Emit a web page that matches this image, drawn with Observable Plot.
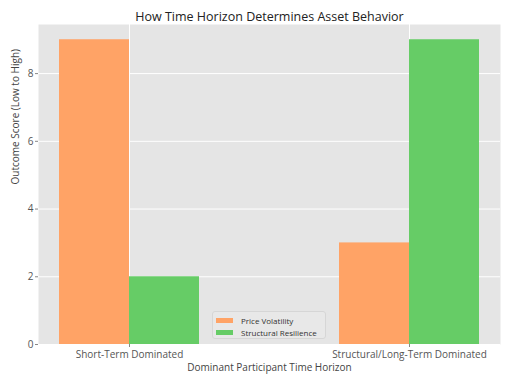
<!DOCTYPE html>
<html>
<head>
<meta charset="utf-8">
<script src="https://cdn.jsdelivr.net/npm/d3@7"></script>
<script src="https://cdn.jsdelivr.net/npm/@observablehq/plot@0.6"></script>
<style>
  body { margin: 0; background: white; }
  #wrap { position: relative; width: 512px; height: 384px; }
  #legend {
    position: absolute; left: 212px; top: 311px; width: 114px; height: 28px;
    background: #e8e8e8; border: 1px solid #d6d6d6; border-radius: 3px;
    font-family: "Open Sans", sans-serif; font-size: 8px; color: #333;
    box-sizing: border-box; padding: 2px 0 0 3px;
  }
  .item { display: flex; align-items: center; height: 12px; }
  .sw { width: 17px; height: 5px; margin-right: 8px; }
</style>
</head>
<body>
<div id="wrap"></div>
<script>
const categories = ["Short-Term Dominated", "Structural/Long-Term Dominated"];
const series = ["Price Volatility", "Structural Resilience"];
const priceVolatility = [9, 3];
const structuralResilience = [2, 9];
const colors = ["#ffa366", "#66cc66"];
const yTicks = [0, 2, 4, 6, 8];
const title = "How Time Horizon Determines Asset Behavior";
const xLabel = "Dominant Participant Time Horizon";
const yLabel = "Outcome Score (Low to High)";

const barWidth = 0.25;
const data = [];
[priceVolatility, structuralResilience].forEach((vals, s) => {
  vals.forEach((v, i) => {
    const center = i + (s === 0 ? -barWidth / 2 : barWidth / 2);
    data.push({ cat: i, series: series[s], value: v, x1: center - barWidth / 2, x2: center + barWidth / 2 });
  });
});

const font = "'Open Sans', sans-serif";
const chart = Plot.plot({
  width: 512, height: 384,
  marginTop: 24, marginLeft: 38, marginRight: 12, marginBottom: 40,
  style: { fontFamily: font, fontSize: "10px", background: "white", color: "#555" },
  x: { type: "linear", domain: [-0.325, 1.325] },
  y: { domain: [0, 9.45] },
  color: { domain: series, range: colors },
  marks: [
    Plot.frame({ fill: "#e5e5e5", stroke: null }),
    Plot.gridY(yTicks, { stroke: "white", strokeOpacity: 1, strokeWidth: 1 }),
    Plot.gridX([0, 1], { stroke: "white", strokeOpacity: 1, strokeWidth: 1 }),
    Plot.rectY(data, { x1: "x1", x2: "x2", y: "value", fill: "series" }),
    Plot.axisY(yTicks, { tickSize: 3, tickPadding: 2, label: null, stroke: "#888", fill: "#555" }),
    Plot.axisX([0, 1], { tickFormat: i => categories[i], tickSize: 3, tickPadding: 3, label: null, stroke: "#888", fill: "#555" }),
    Plot.text([title], { frameAnchor: "top", dy: -12, fontSize: 12.5, fill: "#222" }),
    Plot.text([xLabel], { frameAnchor: "bottom", dy: 26, fontSize: 10, fill: "#444" }),
    Plot.text([yLabel], { frameAnchor: "left", dx: -23, rotate: -90, fontSize: 10, fill: "#444" })
  ]
});
const wrap = document.getElementById("wrap");
wrap.appendChild(chart);
const legend = document.createElement("div");
legend.id = "legend";
series.forEach((s, i) => {
  const it = document.createElement("div");
  it.className = "item";
  it.innerHTML = `<span class="sw" style="background:${colors[i]}"></span><span>${s}</span>`;
  legend.appendChild(it);
});
wrap.appendChild(legend);
</script>
</body>
</html>
